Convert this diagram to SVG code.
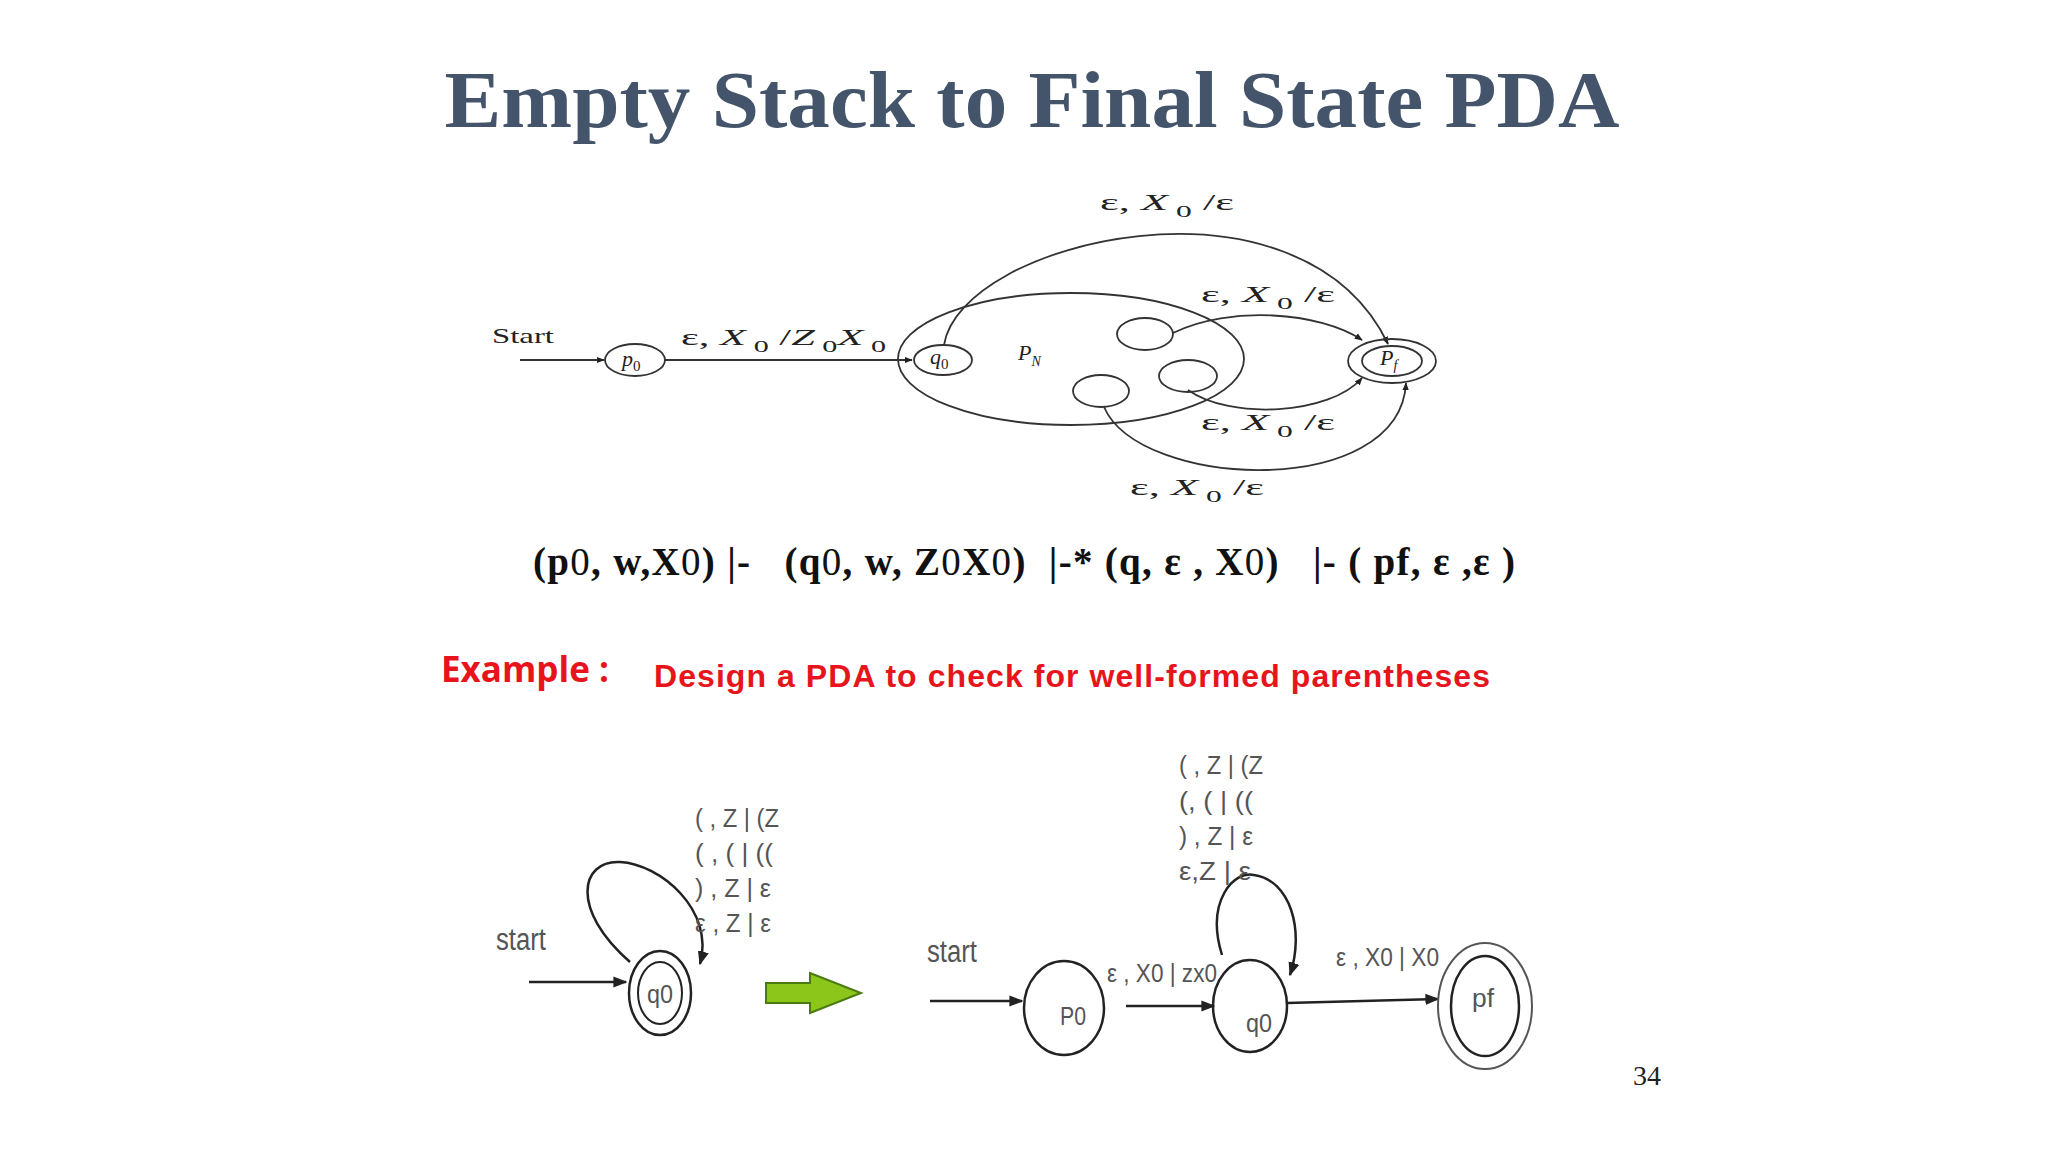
<svg xmlns="http://www.w3.org/2000/svg" width="2048" height="1152" viewBox="0 0 2048 1152">
<defs>
<style>
.ln{fill:none;stroke:#333;stroke-width:1.8}
.tm{font-family:"Liberation Serif",serif;fill:#222}
.it{font-style:italic}
.sk{font-family:"Liberation Sans Narrow","Liberation Sans",sans-serif;fill:#555}
.bl{fill:none;stroke:#222;stroke-width:2.5}
</style>
<marker id="ah" viewBox="0 0 10 10" refX="9" refY="5" markerWidth="8" markerHeight="8" orient="auto" markerUnits="userSpaceOnUse"><path d="M0,1 L10,5 L0,9 z" fill="#222"/></marker>
<marker id="ah2" viewBox="0 0 10 10" refX="9" refY="5" markerWidth="14" markerHeight="14" orient="auto" markerUnits="userSpaceOnUse"><path d="M0,1 L10,5 L0,9 z" fill="#222"/></marker>
</defs>
<rect width="2048" height="1152" fill="#fff"/>
<text x="1032" y="127" text-anchor="middle" font-family="Liberation Serif,serif" font-weight="bold" font-size="80" fill="#44546a" textLength="1175" lengthAdjust="spacingAndGlyphs">Empty Stack to Final State PDA</text>

<g id="top-connectors">
<line class="ln" x1="520" y1="360" x2="604" y2="360" marker-end="url(#ah)"/>
<line class="ln" x1="665" y1="360" x2="912" y2="360" marker-end="url(#ah)"/>
<path class="ln" d="M944,345 C960,240 1300,160 1388,344" marker-end="url(#ah)"/>
<path class="ln" d="M1173,333 C1230,305 1320,312 1362,340" marker-end="url(#ah)"/>
<path class="ln" d="M1188,390 C1230,420 1330,415 1362,378" marker-end="url(#ah)"/>
<path class="ln" d="M1104,407 C1140,490 1400,500 1406,383" marker-end="url(#ah)"/>
</g>
<g id="top-nodes">
<text class="tm" x="492" y="343" font-size="21" textLength="62" lengthAdjust="spacingAndGlyphs">Start</text>
<g id="p0"><ellipse class="ln" cx="635" cy="360" rx="30" ry="16"/><text class="tm it" x="622" y="366" font-size="22">p<tspan font-size="15" dy="5" font-style="normal">0</tspan></text></g>
<text class="tm" x="681" y="345" font-size="24" textLength="205" lengthAdjust="spacingAndGlyphs">ε,  <tspan class="it">X</tspan><tspan font-size="17" dy="7"> 0</tspan><tspan dy="-7"> /</tspan><tspan class="it">Z</tspan><tspan font-size="17" dy="7"> 0</tspan><tspan class="it" dy="-7">X</tspan><tspan font-size="17" dy="7"> 0</tspan></text>
<g id="q0"><ellipse class="ln" cx="943" cy="360" rx="29" ry="15"/><text class="tm it" x="930" y="364" font-size="22">q<tspan font-size="15" dy="5" font-style="normal">0</tspan></text></g>
<g id="PN"><ellipse class="ln" cx="1071" cy="359" rx="173" ry="66"/><text class="tm it" x="1018" y="360" font-size="22">P<tspan font-size="14" dy="6">N</tspan></text></g>
<ellipse class="ln" cx="1145" cy="334" rx="28" ry="16"/>
<ellipse class="ln" cx="1188" cy="376" rx="29" ry="16"/>
<ellipse class="ln" cx="1101" cy="391" rx="28" ry="16"/>
<g id="pf"><ellipse class="ln" cx="1392" cy="361" rx="44" ry="22"/><ellipse class="ln" cx="1392" cy="361" rx="30" ry="15"/><text class="tm it" x="1380" y="365" font-size="22">P<tspan font-size="14" dy="5">f</tspan></text></g>
<text class="tm" x="1100" y="210" font-size="24" textLength="134" lengthAdjust="spacingAndGlyphs">ε,  <tspan class="it">X</tspan><tspan font-size="17" dy="7"> 0</tspan><tspan dy="-7"> /ε</tspan></text>
<text class="tm" x="1201" y="302" font-size="24" textLength="134" lengthAdjust="spacingAndGlyphs">ε,  <tspan class="it">X</tspan><tspan font-size="17" dy="7"> 0</tspan><tspan dy="-7"> /ε</tspan></text>
<text class="tm" x="1201" y="430" font-size="24" textLength="134" lengthAdjust="spacingAndGlyphs">ε,  <tspan class="it">X</tspan><tspan font-size="17" dy="7"> 0</tspan><tspan dy="-7"> /ε</tspan></text>
<text class="tm" x="1130" y="495" font-size="24" textLength="134" lengthAdjust="spacingAndGlyphs">ε,  <tspan class="it">X</tspan><tspan font-size="17" dy="7"> 0</tspan><tspan dy="-7"> /ε</tspan></text>
</g>

<text x="533" y="575" font-family="Liberation Serif,serif" font-weight="bold" font-size="39" fill="#111" textLength="982" xml:space="preserve">(p<tspan font-weight="normal">0</tspan>, w,X<tspan font-weight="normal">0</tspan>) |-   (q<tspan font-weight="normal">0</tspan>, w, Z<tspan font-weight="normal">0</tspan>X<tspan font-weight="normal">0</tspan>)  |-* (q, ε , X<tspan font-weight="normal">0</tspan>)   |- ( pf, ε ,ε )</text>

<text x="441" y="682" font-family="Open Sans,Liberation Sans,sans-serif" font-weight="bold" font-size="35" fill="#e8141c">Example :</text>
<text x="654" y="687" font-family="Liberation Sans,sans-serif" font-weight="bold" font-size="32" fill="#e8141c" textLength="836">Design a PDA to check for well-formed parentheses</text>

<g id="bottom-connectors">
<line class="bl" x1="529" y1="982" x2="626" y2="982" marker-end="url(#ah2)"/>
<path class="bl" d="M630,962 C570,910 580,860 620,862 C660,864 715,910 700,964" marker-end="url(#ah2)"/>
<line class="bl" x1="930" y1="1001" x2="1022" y2="1001" marker-end="url(#ah2)"/>
<line class="bl" x1="1126" y1="1006" x2="1214" y2="1006" marker-end="url(#ah2)"/>
<path class="bl" d="M1222,955 C1205,900 1235,870 1254,875 C1290,880 1305,930 1290,975" marker-end="url(#ah2)"/>
<line class="bl" x1="1287" y1="1003" x2="1438" y2="999" marker-end="url(#ah2)"/>
</g>
<g id="bottom-nodes">
<text class="sk" x="496" y="950" font-size="31" textLength="50" lengthAdjust="spacingAndGlyphs">start</text>
<g id="bq0"><ellipse class="bl" cx="660" cy="993" rx="31" ry="42"/><ellipse cx="660" cy="993" rx="22" ry="31" fill="none" stroke="#222" stroke-width="2"/><text class="sk" x="660" y="1003" font-size="26" text-anchor="middle" textLength="26" lengthAdjust="spacingAndGlyphs">q0</text></g>
<text class="sk" x="695" y="827" font-size="26" textLength="84" lengthAdjust="spacingAndGlyphs">( , Z | (Z</text>
<text class="sk" x="695" y="862" font-size="26" textLength="78" lengthAdjust="spacingAndGlyphs">( , ( | ((</text>
<text class="sk" x="695" y="897" font-size="26" textLength="76" lengthAdjust="spacingAndGlyphs">) , Z | ε</text>
<text class="sk" x="695" y="932" font-size="26" textLength="76" lengthAdjust="spacingAndGlyphs">ε , Z | ε</text>
<path d="M766,983 H810 V973 L861,993 L810,1013 V1003 H766 Z" fill="#8cc61a" stroke="#4a7a10" stroke-width="2"/>
<text class="sk" x="927" y="962" font-size="31" textLength="50" lengthAdjust="spacingAndGlyphs">start</text>
<g id="P0"><ellipse class="bl" cx="1064" cy="1008" rx="40" ry="47"/><text class="sk" x="1073" y="1025" font-size="26" text-anchor="middle" textLength="26" lengthAdjust="spacingAndGlyphs">P0</text></g>
<text class="sk" x="1107" y="982" font-size="25" textLength="110" lengthAdjust="spacingAndGlyphs">ε , X0 | zx0</text>
<g id="bq0b"><ellipse class="bl" cx="1250" cy="1006" rx="37" ry="46"/><text class="sk" x="1259" y="1032" font-size="26" text-anchor="middle" textLength="26" lengthAdjust="spacingAndGlyphs">q0</text></g>
<text class="sk" x="1179" y="774" font-size="26" textLength="84" lengthAdjust="spacingAndGlyphs">( , Z | (Z</text>
<text class="sk" x="1179" y="810" font-size="26" textLength="74" lengthAdjust="spacingAndGlyphs">(, ( | ((</text>
<text class="sk" x="1179" y="845" font-size="26" textLength="74" lengthAdjust="spacingAndGlyphs">) , Z | ε</text>
<text class="sk" x="1179" y="880" font-size="26" textLength="72" lengthAdjust="spacingAndGlyphs">ε,Z | ε</text>
<text class="sk" x="1336" y="966" font-size="25" textLength="103" lengthAdjust="spacingAndGlyphs">ε , X0 | X0</text>
<g id="pfb"><ellipse cx="1485" cy="1006" rx="47" ry="63" fill="none" stroke="#555" stroke-width="2"/><ellipse class="bl" cx="1485" cy="1006" rx="34" ry="50"/><text class="sk" x="1483" y="1007" font-size="26" text-anchor="middle" textLength="22" lengthAdjust="spacingAndGlyphs">pf</text></g>
</g>
<text x="1633" y="1085" font-family="Liberation Serif,serif" font-size="28" fill="#222">34</text>
</svg>
